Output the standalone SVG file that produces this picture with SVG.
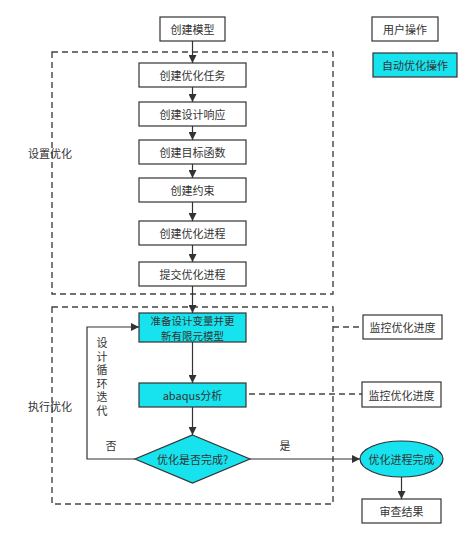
<svg xmlns="http://www.w3.org/2000/svg" width="474" height="540" viewBox="0 0 474 540">
<defs>
<marker id="arr" viewBox="0 0 10 10" refX="10" refY="5" markerWidth="8" markerHeight="8" markerUnits="userSpaceOnUse" orient="auto">
<path d="M0,0 L10,5 L0,10 z" fill="#333"/>
</marker>
<style>
.box{fill:#fff;stroke:#333;stroke-width:1.2}
.cy{fill:#17e3ee;stroke:#333;stroke-width:1.2}
.t{font-family:"Noto Sans CJK SC","Liberation Sans",sans-serif;font-size:11px;fill:#333;text-anchor:middle;dominant-baseline:central}
.v{font-family:"Noto Sans CJK SC","Liberation Sans",sans-serif;font-size:11px;fill:#333;writing-mode:vertical-rl;letter-spacing:2.5px}
.ln{fill:none;stroke:#333;stroke-width:1.2}
.dl{fill:none;stroke:#444;stroke-width:1.4;stroke-dasharray:6 4}
</style>
</defs>
<rect width="474" height="540" fill="#fff"/>
<g id="containers">
<rect class="dl" x="52" y="52" width="281" height="242"/>
<rect class="dl" x="52" y="307" width="281" height="197"/>
<text class="t" x="50" y="153">设置优化</text>
<text class="t" x="50" y="406">执行优化</text>
</g>
<g id="connectors">
<line class="ln" x1="192.5" y1="41" x2="192.5" y2="63" marker-end="url(#arr)"/>
<line class="ln" x1="192.5" y1="87" x2="192.5" y2="102" marker-end="url(#arr)"/>
<line class="ln" x1="192.5" y1="126" x2="192.5" y2="140" marker-end="url(#arr)"/>
<line class="ln" x1="192.5" y1="164" x2="192.5" y2="178" marker-end="url(#arr)"/>
<line class="ln" x1="192.5" y1="202" x2="192.5" y2="221" marker-end="url(#arr)"/>
<line class="ln" x1="192.5" y1="245" x2="192.5" y2="262" marker-end="url(#arr)"/>
<line class="ln" x1="192.5" y1="286" x2="192.5" y2="313" marker-end="url(#arr)"/>
<line class="ln" x1="192.5" y1="342" x2="192.5" y2="383" marker-end="url(#arr)"/>
<line class="ln" x1="192.5" y1="407" x2="192.5" y2="435" marker-end="url(#arr)"/>
<polyline class="ln" points="135,459 87,459 87,327 139,327" marker-end="url(#arr)"/>
<line class="ln" x1="250" y1="459" x2="360" y2="459" marker-end="url(#arr)"/>
<line class="ln" x1="401.5" y1="477" x2="401.5" y2="499" marker-end="url(#arr)"/>
<line class="dl" x1="333" y1="327" x2="363" y2="327"/>
<line class="dl" x1="249" y1="394" x2="362" y2="394"/>
<text class="t" x="111" y="445">否</text>
<text class="t" x="285" y="445">是</text>
<text class="v" x="102" y="337.5">设计循环迭代</text>
</g>
<g id="n_model"><rect class="box" x="160" y="17" width="65" height="24"/><text class="t" x="192.5" y="29">创建模型</text></g>
<g id="n_legend_user"><rect class="box" x="372" y="17" width="66" height="24"/><text class="t" x="405" y="29">用户操作</text></g>
<g id="n_legend_auto"><rect class="cy" x="373" y="53" width="84" height="24"/><text class="t" x="415" y="65">自动优化操作</text></g>
<g id="n_task"><rect class="box" x="139" y="63" width="107" height="24"/><text class="t" x="192.5" y="75">创建优化任务</text></g>
<g id="n_resp"><rect class="box" x="139" y="102" width="107" height="24"/><text class="t" x="192.5" y="114">创建设计响应</text></g>
<g id="n_obj"><rect class="box" x="139" y="140" width="107" height="24"/><text class="t" x="192.5" y="152">创建目标函数</text></g>
<g id="n_cons"><rect class="box" x="139" y="178" width="107" height="24"/><text class="t" x="192.5" y="190">创建约束</text></g>
<g id="n_proc"><rect class="box" x="139" y="221" width="107" height="24"/><text class="t" x="192.5" y="233">创建优化进程</text></g>
<g id="n_submit"><rect class="box" x="139" y="262" width="107" height="24"/><text class="t" x="192.5" y="274">提交优化进程</text></g>
<g id="n_prep"><rect class="cy" x="139" y="313" width="107" height="29"/><text class="t" x="192.5" y="320" style="font-size:10.5px"><tspan x="192.5" y="320">准备设计变量并更</tspan><tspan x="192.5" y="335">新有限元模型</tspan></text></g>
<g id="n_abaqus"><rect class="cy" x="139" y="383" width="107" height="24"/><text class="t" x="192.5" y="395">abaqus分析</text></g>
<g id="n_decide"><polygon class="cy" points="192.5,435 250,459 192.5,483 135,459"/><text class="t" x="192.5" y="459">优化是否完成?</text></g>
<g id="n_done"><ellipse class="cy" cx="401.5" cy="459" rx="41.5" ry="18"/><text class="t" x="401.5" y="459">优化进程完成</text></g>
<g id="n_review"><rect class="box" x="362" y="499" width="79" height="24"/><text class="t" x="401.5" y="511">审查结果</text></g>
<g id="n_mon1"><rect class="box" x="363" y="315" width="79" height="24"/><text class="t" x="402.5" y="327">监控优化进度</text></g>
<g id="n_mon2"><rect class="box" x="362" y="382" width="79" height="25"/><text class="t" x="401.5" y="394.5">监控优化进度</text></g>
</svg>
